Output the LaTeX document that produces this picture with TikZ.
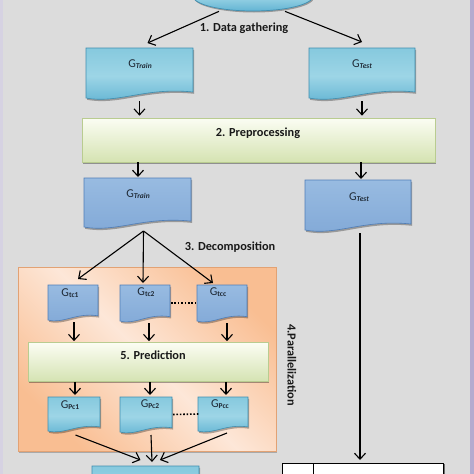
\documentclass[tikz,border=0pt]{standalone}
\usepackage{fontspec}
\setmainfont{Carlito}
\usetikzlibrary{arrows.meta,shapes.geometric,calc,shadows}
\definecolor{bg}{HTML}{DCDCDC}
\definecolor{lavL}{HTML}{D6D2E2}
\definecolor{lavR}{HTML}{B6ABCF}
\definecolor{cyanT}{HTML}{86C9DE}
\definecolor{cyanM}{HTML}{9DD5E6}
\definecolor{cyanB}{HTML}{62B4D3}
\definecolor{cyanE}{HTML}{3F8EB0}
\definecolor{blueT}{HTML}{98BBE1}
\definecolor{blueB}{HTML}{82A9D7}
\definecolor{blueE}{HTML}{4F7EB8}
\definecolor{grnT}{HTML}{FBFDF3}
\definecolor{grnB}{HTML}{D5E3B2}
\definecolor{grnE}{HTML}{B9CC90}
\definecolor{orgD}{HTML}{F9BE92}
\definecolor{orgL}{HTML}{FDE7D8}
\definecolor{orgE}{HTML}{E2A274}
\definecolor{gtext}{HTML}{1F2A36}
\newcommand\Gsub[1]{G\raisebox{-1.2pt}{\fontsize{7.5}{8}\selectfont\bfseries\itshape #1}}
\newcommand\Gsm[1]{G\raisebox{-1.2pt}{\fontsize{7.5}{8}\selectfont\bfseries #1}}
\newcommand\docbox[9]{%
  \fill[black, opacity=0.3, shift={(1.2,1.8)}] (#2,#3) -- ({#2+#4},#3) -- ({#2+#4},{#3+0.88*#5}) .. controls ({#2+0.55*#4},{#3+0.78*#5}) and ({#2+0.3*#4},{#3+1.12*#5}) .. (#2,{#3+#5}) -- cycle;
  \path[#6] (#2,#3) -- ({#2+#4},#3) -- ({#2+#4},{#3+0.88*#5}) .. controls ({#2+0.55*#4},{#3+0.78*#5}) and ({#2+0.3*#4},{#3+1.12*#5}) .. (#2,{#3+#5}) -- cycle;
  \node[boxn, minimum width=#4, minimum height=#5] (#1) at ({#2+#4/2},{#3+#5/2}) {};
  \node[glab] (#1-l) at ({#2+#4/2+#7},{#3+#8}) {#9};
}
\tikzset{
  cyandoc/.style={top color=cyanT, bottom color=cyanB, middle color=cyanM, draw=cyanE, line width=0.6pt},
  bluedoc/.style={top color=blueT, bottom color=blueB, draw=blueE, line width=0.6pt},
  boxn/.style={draw=none, inner sep=0pt, outer sep=0pt},
  glab/.style={text=gtext, inner sep=0pt, font=\fontsize{12}{13}\selectfont},
  steplab/.style={text=black!90, inner sep=1pt, font=\fontsize{12.3}{14}\selectfont\bfseries},
  greenbox/.style={top color=grnT, bottom color=grnB, draw=grnE, line width=0.7pt, inner sep=0pt,
     drop shadow={shadow xshift=1.2pt, shadow yshift=-1.6pt, fill=black, opacity=0.35}},
  parabox/.style={top color=orgD, bottom color=orgD, middle color=orgL, shading angle=-45,
     draw=orgE, line width=0.6pt, inner sep=0pt,
     drop shadow={shadow xshift=1.4pt, shadow yshift=-1.6pt, fill=black!70, opacity=0.35}},
  arr/.style={draw=black, line width=1.1pt, -{Straight Barb[length=6pt,width=11pt]}},
  dots/.style={draw=black, line width=1.6pt, dash pattern=on 1.6pt off 1.8pt},
}
\begin{document}
\begin{tikzpicture}[x=1pt,y=-1pt]
\useasboundingbox (0,0) rectangle (474,474);
\clip (0,0) rectangle (474,474);
\fill[bg] (0,0) rectangle (474,474);
\fill[lavL] (0,0) rectangle (2.5,474);
\fill[lavR] (470,0) rectangle (474,474);

% source ellipse
\node[ellipse, minimum width=120, minimum height=30, top color=cyanT, bottom color=cyanB, middle color=cyanM,
  draw=cyanE, line width=0.7pt, drop shadow={shadow xshift=1pt, shadow yshift=-1.5pt, fill=black, opacity=0.3}] (src) at (253,-4) {};

% step 1
\docbox{gtrain1}{86}{48}{107}{50}{cyandoc}{0.5}{16}{\Gsub{Train}}
\docbox{gtest1}{309}{48}{106}{50}{cyandoc}{0}{16}{\Gsub{Test}}
\draw[arr] ([xshift=-34pt]src.south) -- ($(gtrain1.north)+(8,-5)$);
\draw[arr] ([xshift=32pt]src.south) -- ($(gtest1.north)+(0,-6)$);
\node[steplab] (l1) at (244,28) {1. Data gathering};

% step 2
\node[greenbox, minimum width=353, minimum height=44] (prep) at (258.5,140) {};
\node[steplab] (prep-l) at (258,133) {2. Preprocessing};
\draw[arr] ([yshift=-3pt]gtrain1.south) -- ([yshift=2pt]gtrain1.south |- prep.north);
\draw[arr] ([yshift=-3pt]gtest1.south) -- ([yshift=2pt]gtest1.south |- prep.north);

\docbox{gtrain2}{84}{178}{107}{49}{bluedoc}{0.5}{16}{\Gsub{Train}}
\docbox{gtest2}{305}{180}{106}{50}{bluedoc}{1}{17}{\Gsub{Test}}
\draw[arr] ([xshift=0.5pt]prep.south -| gtrain2.north) -- ([xshift=0.5pt,yshift=1pt]gtrain2.north);
\draw[arr] ([xshift=3pt]prep.south -| gtest2.north) -- ([xshift=3pt,yshift=1pt]gtest2.north);

% step 4 container
\node[parabox, minimum width=258, minimum height=184] (par) at (147,359) {};
\node[steplab, rotate=-90] (l4) at (292,365) {4.Parallelization};

% step 3
\docbox{gtc1}{48}{285}{50}{35}{bluedoc}{-3}{8}{\Gsm{tc1}}
\docbox{gtc2}{120}{285}{50}{36}{bluedoc}{1}{7}{\Gsm{tc2}}
\docbox{gtcc}{197}{285}{50}{36}{bluedoc}{-4}{7}{\Gsm{tcc}}
\coordinate (apex) at ($(gtrain2.south)+(6,4)$);
\draw[arr] (apex) -- ($(gtc1.north)+(5,-6)$);
\draw[arr] (apex) -- ($(gtc2.north)+(-2,-2)$);
\draw[arr] (apex) -- ($(gtcc.north)+(-9,-2)$);
\node[steplab] (l3) at (230,247) {3. Decomposition};
\draw[dots] ([xshift=1pt]gtc2.east) -- ([xshift=-1pt]gtcc.west);

% step 5
\node[greenbox, minimum width=240, minimum height=39] (pred) at (148,362) {};
\node[steplab] (pred-l) at (153,355) {5. Prediction};
\draw[arr] ([xshift=1pt,yshift=-2pt]gtc1.south) -- ([xshift=1pt,yshift=1pt]gtc1.south |- pred.north);
\draw[arr] ([xshift=4pt,yshift=-2pt]gtc2.south) -- ([xshift=4pt,yshift=1pt]gtc2.south |- pred.north);
\draw[arr] ([xshift=5pt,yshift=-2pt]gtcc.south) -- ([xshift=5pt,yshift=1pt]gtcc.south |- pred.north);

\docbox{gpc1}{48}{397}{52}{34}{cyandoc}{-4}{8}{\Gsm{Pc1}}
\docbox{gpc2}{120}{397}{52}{35}{cyandoc}{4}{7}{\Gsm{Pc2}}
\docbox{gpcc}{198}{397}{50}{34}{cyandoc}{-3}{7}{\Gsm{Pcc}}
\draw[arr] ([xshift=1pt]gpc1.north |- pred.south) -- ([xshift=1pt,yshift=2pt]gpc1.north);
\draw[arr] ([xshift=4pt]gpc2.north |- pred.south) -- ([xshift=4pt,yshift=2pt]gpc2.north);
\draw[arr] ([xshift=3pt]gpcc.north |- pred.south) -- ([xshift=3pt,yshift=2pt]gpcc.north);
\draw[dots] ([xshift=1pt]gpc2.east) -- ([xshift=1pt]gpcc.west);

% result
\docbox{res}{92}{466}{107}{50}{cyandoc}{0}{16}{}
\draw[arr] ($(gpc1.south)+(1.5,4)$) -- ($(res.north)+(-5,-6)$);
\draw[arr] ($(gpc2.south)+(5,3)$) -- ($(res.north)+(6.5,-4)$);
\draw[arr] ($(gpcc.south)+(4,2)$) -- ($(res.north)+(14.5,-6)$);

% table
\node[draw=black, fill=white, line width=0.8pt, minimum width=161, minimum height=40, anchor=north west, inner sep=0pt,
  drop shadow={shadow xshift=1.5pt, shadow yshift=-1pt, fill=black, opacity=0.5}] (tbl) at (282,463) {};
\draw[line width=0.8pt] ([xshift=31pt]tbl.north west) -- ([xshift=31pt]tbl.south west);
\coordinate (tstart) at ($(gtest2.south)+(2,3)$);
\draw[arr] (tstart) -- ([yshift=3pt]tstart |- tbl.north);
\end{tikzpicture}
\end{document}
